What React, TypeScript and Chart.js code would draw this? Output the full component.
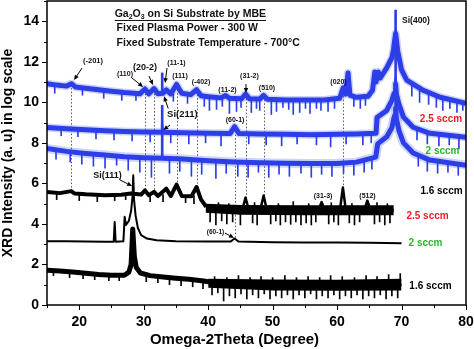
import { useEffect, useRef } from 'react';
import { Chart, registerables } from 'chart.js';

Chart.register(...registerables);

type Pt = [number, number];
type Spike = [number, number, number];

const FONT = '"Liberation Sans", Arial, Helvetica, sans-serif';
const BLUE = '#2b3ee8';
const BLUE_HALO = 'rgba(60,80,240,0.25)';
const RED = '#ee1c25';
const GREEN = '#2db52d';
const BLACK = '#000000';

const X_MIN = 15;
const X_MAX = 80;
const Y_MIN = 0;
const Y_MAX = 15;

// ---- series (2θ in degrees, log intensity) ----
const blue25: Pt[] = [
  [15, 10.92], [16.5, 10.85], [18, 10.8], [18.8, 10.92], [19.4, 10.76], [21, 10.7], [23, 10.62], [25, 10.55],
  [27, 10.48], [29.4, 10.42], [30.2, 10.66], [30.8, 10.42], [31.6, 10.68], [32.2, 10.42], [33.0, 10.45],
  [33.5, 10.62], [34.2, 10.42], [35.1, 10.88], [35.9, 10.45], [37.3, 10.38],
  [38.2, 10.62], [38.9, 10.32], [40, 10.28], [42, 10.22], [42.7, 10.34], [43.3, 10.2], [45.2, 10.18],
  [45.8, 10.4], [46.4, 10.18], [48, 10.16], [48.6, 10.34], [49.2, 10.15], [52, 10.12], [55, 10.12],
  [58, 10.12], [60.4, 10.2], [60.95, 10.72], [61.3, 10.4], [61.7, 11.45], [62.0, 10.35], [63, 10.25],
  [64.8, 10.3], [65.5, 10.6], [65.85, 11.5], [66.05, 11.0], [66.4, 11.5], [66.7, 11.2], [67.7, 11.7],
  [68.5, 12.2], [68.75, 12.6], [68.95, 13.1], [69.08, 13.4], [69.2, 13.1], [69.4, 12.55], [70, 11.6],
  [70.8, 11.1], [73.3, 10.6], [76, 10.25], [80, 9.95],
];

const blue20: Pt[] = [
  [15, 8.76], [18, 8.7], [21, 8.65], [24, 8.6], [27, 8.56], [30, 8.54], [33.0, 8.52], [36, 8.5], [40, 8.47],
  [43.4, 8.46], [44.1, 8.8], [44.8, 8.46], [48, 8.44], [52, 8.42],
  [56, 8.4], [60, 8.42], [63, 8.44], [66.05, 8.48], [66.2, 9.25], [67.7, 9.6], [68.5, 10.1], [68.8, 10.4],
  [69.0, 10.5], [69.08, 10.9], [69.2, 10.4], [69.6, 9.9], [70.3, 9.27], [71.8, 8.77], [74.4, 8.47], [80, 8.28],
];

const blue16: Pt[] = [
  [15, 7.72], [18, 7.58], [21, 7.48], [24, 7.4], [27, 7.32], [30, 7.27], [33.0, 7.24], [36, 7.2], [40, 7.12],
  [44, 7.06], [48, 7.02], [52, 7.0], [56, 6.98], [60, 6.98], [63, 7.05],
  [66.0, 7.3], [66.3, 7.95], [67.7, 8.3], [68.5, 8.75], [68.8, 9.2], [69.0, 9.4], [69.08, 9.7], [69.2, 9.2],
  [69.6, 8.6], [70.3, 8.0], [71.8, 7.5], [74.4, 7.15], [80, 6.9],
];

const black25: Pt[] = [
  [15, 5.57], [17, 5.52], [18.75, 5.62], [19.3, 5.5], [21, 5.46], [24, 5.42], [26.5, 5.44], [28, 5.5],
  [29.6, 5.45], [30.2, 5.65], [30.8, 5.42], [31.6, 5.58], [32.2, 5.38], [33.5, 5.74], [34.2, 5.38],
  [35.1, 5.94], [35.9, 5.38], [37.4, 5.36], [38.2, 5.82], [38.9, 5.2], [39.7, 4.85], [41, 4.72], [43.5, 4.7],
  [44.15, 4.85], [44.7, 4.7], [45.3, 4.7], [45.8, 5.3], [46.3, 4.7], [48.1, 4.7], [48.6, 5.4], [49.1, 4.7],
  [52, 4.68], [55, 4.68], [57.1, 4.68], [57.6, 5.08], [58.1, 4.68], [60.45, 4.7], [60.9, 5.8], [61.35, 4.7],
  [64.2, 4.68], [64.7, 5.15], [65.2, 4.68], [68.8, 4.68],
];

const black20: Pt[] = [
  [15, 3.15], [18, 3.14], [21, 3.13], [24, 3.12], [25.35, 3.12], [25.5, 4.1], [25.65, 3.12], [26.85, 3.14],
  [27.05, 4.35], [27.25, 3.95], [27.7, 4.15], [28.05, 4.65], [28.28, 5.4], [28.38, 6.4], [28.5, 5.2],
  [28.75, 4.4], [29.1, 3.8], [29.6, 3.45], [30.5, 3.28], [32, 3.2], [35, 3.15], [40, 3.13], [43.5, 3.13],
  [44.1, 3.28], [44.7, 3.13], [50, 3.1], [55, 3.09], [60, 3.08], [65, 3.07], [70, 3.05],
];

const black16: Pt[] = [
  [15, 1.72], [17, 1.68], [19, 1.63], [21, 1.57], [23, 1.51], [25, 1.47], [27, 1.47], [27.7, 1.62],
  [28.05, 2.0], [28.3, 3.75], [28.55, 2.4], [28.85, 1.85], [29.5, 1.58], [31, 1.45], [33, 1.38], [35, 1.32],
  [37, 1.27], [39, 1.2], [40.5, 1.12], [43, 1.05], [46, 1.0], [50, 0.98], [55, 0.97], [60, 0.96], [65, 0.97],
  [70, 1.0],
];

// ---- noisy bands [x, low, high] ----
const black25Band: Spike[] = [[39.6, 4.55, 5.0], [45, 4.45, 4.93], [55, 4.43, 4.92], [68.8, 4.43, 4.92]];
const black16Band: Spike[] = [[40, 0.85, 1.3], [50, 0.72, 1.26], [60, 0.7, 1.25], [70, 0.72, 1.3]];

// ---- sharp substrate lines [x, from, to] ----
const blueSharp: Spike[] = [
  [32.87, 10.45, 11.45], [32.87, 8.52, 9.85], [32.87, 7.24, 8.9],
  [69.08, 13.0, 14.55], [69.08, 10.5, 12.8], [69.08, 9.4, 11.2],
];

// ---- noise spikes [x, from, to] ----
const blueSpikes: Spike[] = [
  [16.2, 10.85, 10.45], [20.5, 10.72, 10.35], [23.8, 10.6, 10.2], [26.6, 10.5, 10.1], [28.8, 10.44, 10.1],
  [34.6, 10.42, 10.05], [36.8, 10.4, 9.95], [39.4, 10.3, 9.8], [40.2, 10.28, 9.6], [41.3, 10.25, 9.65],
  [42.2, 10.23, 9.8], [43.3, 10.2, 9.45], [44.4, 10.19, 9.55], [45.1, 10.18, 9.75], [46.7, 10.18, 9.5],
  [47.5, 10.17, 9.7], [48.0, 10.16, 9.6], [49.8, 10.15, 9.4], [50.6, 10.14, 9.55], [51.6, 10.13, 9.75],
  [52.5, 10.12, 9.65], [53.2, 10.12, 9.4], [54.2, 10.12, 9.5], [55.1, 10.12, 9.7], [55.8, 10.12, 9.45],
  [56.8, 10.12, 9.7], [57.5, 10.12, 9.6], [58.6, 10.13, 9.55], [59.6, 10.15, 9.7], [62.6, 10.25, 9.8],
  [63.6, 10.25, 9.7], [64.4, 10.28, 9.85], [71.6, 10.8, 10.3], [72.8, 10.62, 10.0], [74.2, 10.45, 9.9],
  [75.4, 10.32, 9.75], [76.4, 10.22, 9.6], [77.5, 10.15, 9.7], [78.6, 10.05, 9.5], [79.5, 9.98, 9.6],
  [17.2, 8.72, 8.35], [19.8, 8.67, 8.3], [22.6, 8.62, 8.2], [25.4, 8.58, 8.15], [28.2, 8.55, 8.1],
  [31.0, 8.53, 8.05], [34.2, 8.51, 8.0], [37.0, 8.49, 7.95], [39.6, 8.47, 8.0], [42.0, 8.46, 7.85],
  [46.3, 8.45, 7.95], [49.0, 8.43, 7.9], [51.4, 8.42, 7.85], [53.8, 8.41, 7.95], [56.8, 8.4, 7.9],
  [59.0, 8.41, 7.8], [61.4, 8.43, 7.95], [64.0, 8.45, 7.9], [65.3, 8.46, 8.0], [72.4, 8.62, 8.15],
  [74.0, 8.5, 7.95], [75.8, 8.43, 7.85], [77.4, 8.38, 7.9], [78.9, 8.32, 7.7],
  [16.4, 7.65, 7.2], [18.6, 7.56, 7.05], [20.4, 7.5, 6.95], [22.2, 7.45, 6.85], [24.0, 7.4, 6.75],
  [25.8, 7.36, 6.9], [27.6, 7.31, 6.65], [29.4, 7.28, 6.55], [31.2, 7.25, 6.3], [34.0, 7.22, 6.5],
  [35.6, 7.21, 6.6], [37.4, 7.18, 6.35], [39.0, 7.15, 6.45], [41.2, 7.1, 6.25], [42.8, 7.08, 6.5],
  [44.6, 7.05, 6.35], [46.2, 7.04, 6.3], [47.8, 7.02, 6.55], [49.4, 7.01, 6.3], [51.0, 7.0, 6.45],
  [52.6, 7.0, 6.35], [54.4, 6.99, 6.5], [56.0, 6.98, 6.3], [57.6, 6.98, 6.45], [59.2, 6.98, 6.35],
  [61.0, 7.0, 6.5], [62.6, 7.02, 6.4], [64.2, 7.1, 6.55], [65.4, 7.2, 6.7], [72.6, 7.35, 6.85],
  [74.0, 7.2, 6.6], [75.6, 7.08, 6.5], [77.2, 7.0, 6.55], [78.8, 6.93, 6.4],
];

const blackSpikes: Spike[] = [
  [16.5, 5.55, 5.2], [20, 5.48, 5.15], [22.8, 5.44, 5.1], [25.5, 5.43, 5.15], [27.2, 5.46, 5.2],
  [31.0, 5.42, 5.1], [33.0, 5.45, 5.1], [36.5, 5.37, 5.05], [37.8, 5.4, 5.0],
  [40.3, 4.7, 4.1], [41.2, 4.7, 3.95], [42.1, 4.7, 4.15], [42.9, 4.7, 4.0], [43.8, 4.7, 4.1], [45.0, 4.7, 3.95],
  [46.9, 4.7, 4.05], [47.6, 4.7, 3.95], [49.7, 4.7, 4.0], [50.5, 4.7, 4.15], [51.2, 4.7, 3.95], [52.0, 4.7, 4.1],
  [52.8, 4.7, 3.98], [53.6, 4.7, 4.1], [54.4, 4.7, 3.95], [55.2, 4.7, 4.05], [56.0, 4.7, 3.95], [56.7, 4.7, 4.1],
  [58.7, 4.7, 4.0], [59.5, 4.7, 4.1], [60.2, 4.7, 3.95], [61.9, 4.7, 4.05], [62.7, 4.7, 3.95], [63.5, 4.7, 4.1],
  [65.8, 4.7, 4.0], [66.6, 4.7, 4.1], [67.4, 4.7, 3.95], [68.2, 4.7, 4.05],
  [41.6, 4.7, 5.05], [43.2, 4.7, 5.0], [47.2, 4.7, 5.05], [50.9, 4.7, 5.0], [53.2, 4.7, 5.1], [55.6, 4.7, 5.0],
  [59.1, 4.7, 5.05], [62.3, 4.7, 5.0], [66.2, 4.7, 5.05], [67.8, 4.7, 5.0],
  [16, 1.7, 1.45], [18.5, 1.65, 1.35], [20.6, 1.58, 1.3], [22.4, 1.53, 1.25], [24.6, 1.48, 1.2],
  [26.2, 1.47, 1.2], [30.4, 1.5, 1.15], [32.2, 1.42, 1.1], [34.0, 1.35, 1.0], [35.8, 1.3, 0.95],
  [37.6, 1.25, 0.9], [39.2, 1.2, 0.8], [40.6, 1.1, 0.5], [41.5, 1.1, 0.6], [42.4, 1.05, 0.2], [43.3, 1.05, 0.45],
  [44.2, 1.0, 0.35], [45.1, 1.0, 0.55], [46.0, 1.0, 0.3], [46.9, 1.0, 0.5], [47.8, 1.0, 0.35], [48.7, 1.0, 0.55],
  [49.6, 1.0, 0.3], [50.5, 1.0, 0.45], [51.4, 1.0, 0.35], [52.3, 1.0, 0.5], [53.2, 1.0, 0.3], [54.1, 1.0, 0.5],
  [55.0, 1.0, 0.35], [55.9, 1.0, 0.55], [56.8, 1.0, 0.3], [57.7, 1.0, 0.45], [58.6, 1.0, 0.35], [59.5, 1.0, 0.5],
  [60.4, 1.0, 0.3], [61.3, 1.0, 0.45], [62.2, 1.0, 0.35], [63.1, 1.0, 0.5], [64.0, 1.0, 0.3], [64.9, 1.0, 0.45],
  [65.8, 1.0, 0.35], [66.7, 1.0, 0.5], [67.6, 1.0, 0.3], [68.5, 1.0, 0.45], [69.4, 1.0, 0.35],
  [41.0, 1.0, 1.4], [42.9, 1.0, 1.35], [44.7, 1.0, 1.45], [46.5, 1.0, 1.35], [48.2, 1.0, 1.4], [50.0, 1.0, 1.35],
  [51.9, 1.0, 1.45], [53.7, 1.0, 1.35], [55.5, 1.0, 1.4], [57.3, 1.0, 1.35], [59.0, 1.0, 1.45], [60.8, 1.0, 1.4],
  [62.7, 1.0, 1.35], [64.5, 1.0, 1.45], [66.2, 1.0, 1.4], [68.0, 1.0, 1.5], [69.8, 1.0, 1.55],
];

// ---- annotations (data coordinates) ----
const peakLabels: [string, number, number, number][] = [
  ['(-201)', 22.14, 12.04, 7.5],
  ['(110)', 27.1, 11.4, 7],
  ['(20-2)', 30.2, 11.74, 9],
  ['(11-1)', 35.09, 11.94, 7],
  ['(111)', 35.63, 11.3, 7],
  ['(-402)', 38.89, 11.0, 7],
  ['(11-2)', 43.0, 10.61, 7],
  ['(31-2)', 46.4, 11.32, 7],
  ['(510)', 49.13, 10.68, 7],
  ['Si(211)', 36.0, 9.42, 9.5],
  ['(60-1)', 44.17, 9.13, 7],
  ['(020)', 60.22, 11.0, 7],
  ['Si(400)', 72.24, 14.01, 8.5],
  ['Si(111)', 24.39, 6.41, 9],
  ['(31-3)', 57.82, 5.38, 7],
  ['(512)', 64.72, 5.38, 7],
  ['(60-1)', 41.14, 3.6, 6.5],
];

const sccmLabels: [string, number, number, string][] = [
  ['2.5 sccm', 76.12, 9.18, RED],
  ['2 sccm', 76.36, 7.6, GREEN],
  ['1.6 sccm', 76.2, 5.62, BLACK],
  ['2.5 sccm', 74.03, 4.39, RED],
  ['2 sccm', 73.72, 3.06, GREEN],
  ['1.6 sccm', 74.49, 0.94, BLACK],
];

const arrows: [number, number, number, number][] = [
  [20.43, 11.69, 19.19, 11.1],
  [28.19, 11.2, 29.9, 10.76],
  [30.82, 11.3, 31.44, 10.86],
  [33.62, 11.69, 33.31, 10.95],
  [33.8, 9.7, 33.15, 10.3],
  [34.08, 8.88, 33.04, 8.63],
  [45.87, 10.9, 45.87, 10.46],
  [26.32, 6.17, 28.2, 5.87],
  [42.61, 3.55, 44.01, 3.31],
];

const dottedLines: [number, number, number][] = [
  [18.8, 10.7, 5.65],
  [30.2, 10.6, 5.62],
  [31.6, 10.6, 5.55],
  [35.1, 10.8, 5.9],
  [38.2, 10.55, 5.78],
  [44.1, 8.75, 3.3],
  [45.8, 10.35, 5.25],
  [48.6, 10.3, 5.35],
  [60.9, 10.65, 5.75],
];

const titleLines: [string, number, number][] = [
  ['Fixed Plasma Power - 300 W', 25.8, 13.67],
  ['Fixed Substrate Temperature - 700°C', 25.8, 12.93],
];
const mainTitle: [number, number] = [25.5, 14.36];

const lineDs = (
  pts: Pt[], color: string, width: number, wideFrom?: number, wideWidth?: number, order = 1,
) => ({
  type: 'line' as const,
  data: pts.map(([x, y]) => ({ x, y })),
  borderColor: color,
  borderWidth: width,
  pointRadius: 0,
  tension: 0,
  fill: false,
  borderJoinStyle: 'round' as const,
  order,
  segment:
    wideFrom === undefined
      ? {}
      : { borderWidth: (c: any) => (c.p0.parsed.x >= wideFrom ? wideWidth : width) },
});

const bandDs = (band: Spike[], color: string) => [
  {
    type: 'line' as const,
    data: band.map(([x, , hi]) => ({ x, y: hi })),
    borderWidth: 0,
    borderColor: 'rgba(0,0,0,0)',
    backgroundColor: color,
    pointRadius: 0,
    tension: 0,
    fill: '+1',
    order: 3,
  },
  {
    type: 'line' as const,
    data: band.map(([x, lo]) => ({ x, y: lo })),
    borderWidth: 0,
    borderColor: 'rgba(0,0,0,0)',
    pointRadius: 0,
    tension: 0,
    fill: false,
    order: 3,
  },
];

const spikeDs = (sp: Spike[], color: string, thick: number) => ({
  type: 'bar' as const,
  data: sp.map(([x, a, b]) => ({ x, y: [Math.min(a, b), Math.max(a, b)] })),
  backgroundColor: color,
  borderWidth: 0,
  barThickness: thick,
  grouped: false,
  order: 2,
});

const annotPlugin = {
  id: 'annot',
  beforeDatasetsDraw(chart: any) {
    const { ctx, scales } = chart;
    const xs = scales.x;
    const ys = scales.y;
    ctx.save();
    ctx.strokeStyle = '#555';
    ctx.lineWidth = 1;
    ctx.setLineDash([1.5, 2]);
    for (const [xv, y0, y1] of dottedLines) {
      const px = Math.round(xs.getPixelForValue(xv)) + 0.5;
      ctx.beginPath();
      ctx.moveTo(px, ys.getPixelForValue(y0));
      ctx.lineTo(px, ys.getPixelForValue(y1));
      ctx.stroke();
    }
    ctx.restore();
  },
  afterDatasetsDraw(chart: any) {
    const { ctx, scales } = chart;
    const xs = scales.x;
    const ys = scales.y;
    const P = (x: number, y: number) => [xs.getPixelForValue(x), ys.getPixelForValue(y)];
    ctx.save();
    ctx.fillStyle = '#111';
    ctx.textAlign = 'center';
    ctx.textBaseline = 'middle';
    for (const [t, x, y, s] of peakLabels) {
      ctx.font = `bold ${s}px ${FONT}`;
      const [px, py] = P(x, y);
      ctx.fillText(t, px, py);
    }
    for (const [t, x, y, c] of sccmLabels) {
      ctx.font = `bold 10px ${FONT}`;
      ctx.fillStyle = c;
      const [px, py] = P(x, y);
      ctx.fillText(t, px, py);
    }
    ctx.strokeStyle = '#000';
    ctx.fillStyle = '#000';
    ctx.lineWidth = 1;
    for (const [x0, y0, x1, y1] of arrows) {
      const [a, b] = P(x0, y0);
      const [c, d] = P(x1, y1);
      const ang = Math.atan2(d - b, c - a);
      const hl = 5;
      const hw = 2.2;
      const bx = c - hl * Math.cos(ang);
      const by = d - hl * Math.sin(ang);
      ctx.beginPath();
      ctx.moveTo(a, b);
      ctx.lineTo(bx, by);
      ctx.stroke();
      ctx.beginPath();
      ctx.moveTo(c, d);
      ctx.lineTo(bx + hw * Math.sin(ang), by - hw * Math.cos(ang));
      ctx.lineTo(bx - hw * Math.sin(ang), by + hw * Math.cos(ang));
      ctx.closePath();
      ctx.fill();
    }
    ctx.textAlign = 'left';
    ctx.fillStyle = '#111';
    const big = `bold 10.5px ${FONT}`;
    const small = `bold 7px ${FONT}`;
    const [tx, ty] = P(mainTitle[0], mainTitle[1]);
    let cx = tx;
    const parts: [string, boolean][] = [
      ['Ga', false], ['2', true], ['O', false], ['3', true], [' on Si Substrate by MBE', false],
    ];
    for (const [t, sub] of parts) {
      ctx.font = sub ? small : big;
      ctx.fillText(t, cx, sub ? ty + 3 : ty);
      cx += ctx.measureText(t).width;
    }
    ctx.fillRect(tx, ty + 6, cx - tx, 1);
    ctx.font = big;
    for (const [t, x, y] of titleLines) {
      const [px, py] = P(x, y);
      ctx.fillText(t, px, py);
    }
    ctx.restore();
  },
  afterDraw(chart: any) {
    const { ctx, chartArea, scales } = chart;
    const { left, right, top, bottom } = chartArea;
    const xs = scales.x;
    const ys = scales.y;
    ctx.save();
    ctx.strokeStyle = '#000';
    ctx.lineWidth = 1.5;
    ctx.strokeRect(left, top, right - left, bottom - top);
    ctx.lineWidth = 1;
    ctx.beginPath();
    for (let v = X_MIN; v <= X_MAX; v += 5) {
      const px = Math.round(xs.getPixelForValue(v)) + 0.5;
      const len = v % 10 === 0 ? 5 : 3;
      ctx.moveTo(px, bottom);
      ctx.lineTo(px, bottom + len);
    }
    for (let v = Y_MIN; v <= Y_MAX; v += 1) {
      const py = Math.round(ys.getPixelForValue(v)) + 0.5;
      const len = v % 2 === 0 ? 5 : 3;
      ctx.moveTo(left, py);
      ctx.lineTo(left - len, py);
    }
    ctx.stroke();
    ctx.fillStyle = '#000';
    ctx.font = `bold 15px ${FONT}`;
    ctx.textAlign = 'center';
    ctx.textBaseline = 'middle';
    ctx.fillText('Omega-2Theta (Degree)', (left + right) / 2 - 22, 340);
    ctx.restore();
  },
};

export default function App() {
  const ref = useRef<HTMLCanvasElement | null>(null);
  useEffect(() => {
    document.body.style.margin = '0';
    if (!ref.current) return;
    const chart = new Chart(ref.current, {
      type: 'line',
      data: {
        datasets: [
          lineDs(blue25, BLUE, 5),
          lineDs(blue20, BLUE, 5),
          lineDs(blue16, BLUE, 5),
          lineDs(black25, BLACK, 4, 39.5, 2.5),
          lineDs(black20, BLACK, 2),
          lineDs(black16, BLACK, 5, 40, 2.5),
          spikeDs(blueSharp, BLUE, 2),
          spikeDs(blueSpikes, BLUE, 1),
          spikeDs(blackSpikes, BLACK, 1),
          ...bandDs(black25Band, BLACK),
          ...bandDs(black16Band, BLACK),
          lineDs(blue25, BLUE_HALO, 8, undefined, undefined, 4),
          lineDs(blue20, BLUE_HALO, 8, undefined, undefined, 4),
          lineDs(blue16, BLUE_HALO, 9, undefined, undefined, 4),
        ] as any,
      },
      options: {
        animation: false,
        responsive: false,
        devicePixelRatio: 1,
        layout: { padding: { top: 1, right: 8, left: 0, bottom: 0 } },
        plugins: { legend: { display: false }, tooltip: { enabled: false } },
        events: [],
        scales: {
          x: {
            type: 'linear',
            min: X_MIN,
            max: X_MAX,
            offset: false,
            afterFit: (s: any) => { s.height = 44; s.paddingLeft = 0; s.paddingRight = 0; },
            grid: { display: false, drawTicks: true, tickLength: 5 },
            border: { display: false },
            ticks: {
              stepSize: 5,
              autoSkip: false,
              maxRotation: 0,
              padding: 4,
              color: '#000',
              font: { family: FONT, size: 14, weight: 'bold' },
              callback: (v: any) => (Number(v) % 10 === 0 ? String(v) : null),
            },
          },
          y: {
            type: 'linear',
            min: Y_MIN,
            max: Y_MAX,
            afterFit: (s: any) => { s.width = 47; s.paddingTop = 0; s.paddingBottom = 0; },
            grid: { display: false, drawTicks: true, tickLength: 5 },
            border: { display: false },
            ticks: {
              stepSize: 1,
              autoSkip: false,
              padding: 3,
              color: '#000',
              font: { family: FONT, size: 14, weight: 'bold' },
              callback: (v: any) => (Number(v) % 2 === 0 ? String(v) : null),
            },
            title: {
              display: true,
              text: 'XRD Intensity (a. u) in log scale',
              color: '#000',
              font: { family: FONT, size: 14, weight: 'bold' },
              padding: { top: 0, bottom: 0 },
            },
          },
        },
      } as any,
      plugins: [annotPlugin],
    });
    return () => chart.destroy();
  }, []);
  return (
    <div style={{ position: 'absolute', left: 0, top: 0, width: 474, height: 349 }}>
      <canvas ref={ref} width={474} height={349} style={{ width: 474, height: 349 }} />
    </div>
  );
}
